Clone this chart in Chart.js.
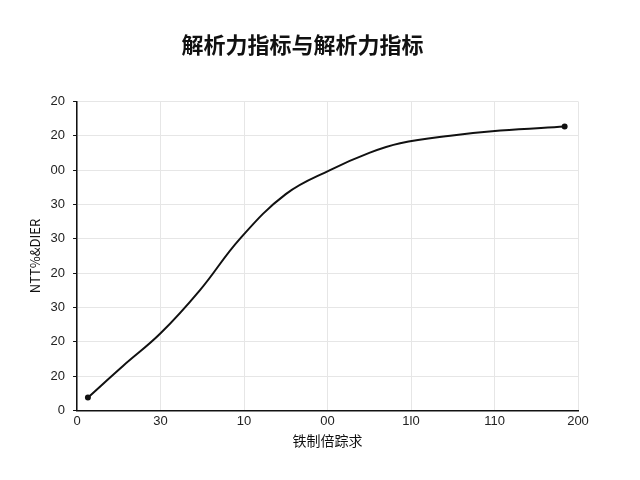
<!DOCTYPE html>
<html><head><meta charset="utf-8">
<script src="https://cdn.jsdelivr.net/npm/chart.js@4"></script>
<style>body{margin:0;background:#fff}#w{width:640px;height:480px}</style>
</head><body><div id="w"><canvas id="c"></canvas></div>
<script>
const xTickLabels = ['0','30','10','00','1l0','110','200'];
const yTickLabels = ['0','20','20','30','20','30','30','00','20','20'];
const xValues = [0.13,0.55,1.0,1.47,1.95,2.5,3.03,3.5,3.87,4.47,5.07,5.84];
const yValues = [0.38,1.3,2.25,3.5,5.0,6.3,7.0,7.5,7.78,8.0,8.15,8.27];
const pts = xValues.map((x,i)=>({x, y:yValues[i]}));
new Chart(document.getElementById('c'), {
  type:'line',
  data:{datasets:[{data:pts, borderColor:'#111', borderWidth:2, tension:0.4,
    pointRadius:pts.map((p,i)=>(i===0||i===pts.length-1)?2:0), pointBackgroundColor:'#111'}]},
  options:{responsive:true, maintainAspectRatio:false, animation:false,
    layout:{padding:{left:27,right:62,top:25,bottom:31}},
    plugins:{legend:{display:false},
      title:{display:true,text:'解析力指标与解析力指标',color:'#111',font:{size:22,weight:'bold',family:'Noto Sans CJK SC'},padding:{top:6,bottom:44}}},
    scales:{
      x:{type:'linear',min:0,max:6,ticks:{stepSize:1,color:'#222',font:{size:13},callback:v=>xTickLabels[v]},
        grid:{color:'#e6e6e6',drawTicks:false},border:{color:'#111',width:1.5},
        title:{display:true,text:'铁制倍踪求',color:'#111',font:{size:14,family:'Noto Sans CJK SC'},padding:0}},
      y:{min:0,max:9,ticks:{stepSize:1,color:'#222',font:{size:13},padding:8,callback:v=>yTickLabels[v]},
        grid:{color:'#e6e6e6',drawTicks:true,tickLength:4,tickColor:'#111'},border:{color:'#111',width:1.5},
        title:{display:true,text:'NTT%&DIER',color:'#111',font:{size:13,family:'Noto Sans CJK SC'},padding:0}}
    }}
});
</script></body></html>
